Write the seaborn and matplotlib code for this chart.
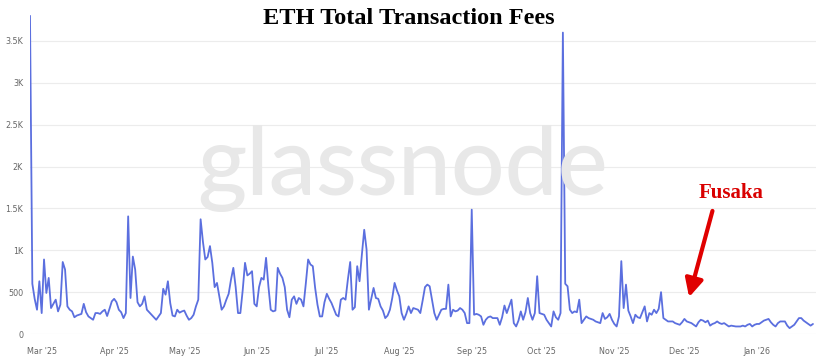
import numpy as np
import pandas as pd
import matplotlib
matplotlib.use("Agg")
import matplotlib.pyplot as plt
import matplotlib.dates as mdates
import seaborn as sns

# ---- data (daily ETH total transaction fees) ----
start_date = "2025-02-24"
fees = [
    3800, 600, 420, 290, 630, 250, 890, 490, 670, 310,
    360, 410, 270, 350, 860, 770, 330, 290, 270, 200,
    220, 230, 240, 360, 260, 210, 190, 170, 250, 250,
    240, 270, 290, 215, 300, 390, 420, 380, 290, 260,
    190, 250, 1405, 430, 925, 770, 380, 330, 360, 450,
    290, 260, 230, 200, 170, 210, 250, 540, 470, 630,
    370, 220, 210, 290, 255, 270, 280, 220, 170, 190,
    230, 330, 410, 1370, 1100, 890, 920, 1050, 850, 560,
    610, 450, 290, 330, 410, 480, 650, 790, 560, 250,
    250, 520, 850, 700, 720, 750, 360, 330, 560, 670,
    650, 910, 570, 290, 270, 280, 790, 720, 670, 560,
    290, 200, 410, 450, 360, 430, 410, 330, 600, 890,
    830, 810, 550, 350, 210, 210, 380, 480, 420, 370,
    300, 230, 210, 410, 430, 410, 650, 860, 290, 320,
    810, 630, 950, 1245, 1010, 290, 420, 550, 430, 420,
    330, 280, 190, 220, 290, 430, 610, 520, 450, 250,
    170, 240, 330, 250, 310, 300, 290, 250, 400, 560,
    590, 570, 410, 250, 170, 230, 290, 300, 300, 590,
    210, 290, 270, 280, 310, 290, 250, 130, 130, 1485,
    230, 240, 230, 210, 110, 170, 200, 210, 190, 190,
    190, 110, 200, 340, 250, 330, 410, 130, 90, 160,
    270, 170, 260, 430, 250, 170, 250, 690, 250, 240,
    230, 170, 130, 90, 270, 200, 170, 250, 3600, 600,
    570, 290, 250, 270, 260, 410, 130, 170, 210, 190,
    180, 170, 150, 140, 130, 250, 180, 200, 240, 170,
    120, 90, 210, 870, 310, 590, 280, 210, 130, 230,
    200, 190, 260, 330, 150, 250, 230, 290, 250, 300,
    500, 190, 170, 150, 150, 150, 130, 120, 110, 140,
    180, 150, 140, 130, 110, 90, 140, 170, 160, 140,
    160, 100, 120, 130, 150, 130, 120, 130, 110, 90,
    100, 95, 90, 90, 90, 100, 90, 110, 120, 90,
    110, 120, 120, 140, 160, 170, 180, 140, 110, 90,
    130, 150, 150, 150, 100, 70, 90, 110, 150, 190,
    190, 160, 140, 120, 100, 120,
]
y_ticks = [0, 500, 1000, 1500, 2000, 2500, 3000, 3500]
y_tick_labels = ["0", "500", "1K", "1.5K", "2K", "2.5K", "3K", "3.5K"]
x_tick_dates = ["2025-03-01", "2025-04-01", "2025-05-01", "2025-06-01",
                "2025-07-01", "2025-08-01", "2025-09-01", "2025-10-01",
                "2025-11-01", "2025-12-01", "2026-01-01"]
x_tick_labels = ["Mar '25", "Apr '25", "May '25", "Jun '25", "Jul '25",
                 "Aug '25", "Sep '25", "Oct '25", "Nov '25", "Dec '25",
                 "Jan '26"]
title = "ETH Total Transaction Fees"
watermark = "glassnode"
note_text = "Fusaka"
note_text_pos = ("2025-12-21", 1690)
note_arrow_tail = ("2025-12-13", 1470)
note_arrow_head = ("2025-12-03", 440)

df = pd.DataFrame({
    "date": pd.date_range(start_date, periods=len(fees), freq="D"),
    "fees": fees,
})

sns.set_theme(style="white")
plt.rcParams["font.family"] = ["DejaVu Sans"]

fig = plt.figure(figsize=(8.22, 3.57), dpi=100)
ax = fig.add_axes([30 / 822, 1 - 334 / 357, 786 / 822, (334 - 15) / 357])

# watermark
fig.text(403 / 822, 1 - 168 / 357, watermark, ha="center", va="center",
         fontsize=68, color="#e8e8e8", family=["Lato", "DejaVu Sans"],
         fontweight="medium", zorder=0)
ax.patch.set_alpha(0)

sns.lineplot(data=df, x="date", y="fees", ax=ax, color="#5b6fdf",
             linewidth=1.3, zorder=3)

ax.set_ylim(0, 3810)
ax.set_xlim(pd.Timestamp(start_date), pd.Timestamp(start_date) + pd.Timedelta(days=336.3))
ax.set_yticks(y_ticks)
ax.set_yticklabels(y_tick_labels)
ax.set_xticks(pd.to_datetime(x_tick_dates))
ax.set_xticklabels(x_tick_labels)
ax.tick_params(axis="both", length=0, labelsize=5.8, colors="#666666")
ax.tick_params(axis="y", pad=5)
ax.tick_params(axis="x", pad=9)
ax.grid(axis="y", color="#ececec", linewidth=0.8)
ax.grid(axis="x", visible=False)
for s in ax.spines.values():
    s.set_visible(False)
ax.set_xlabel("")
ax.set_ylabel("")

fig.text(409 / 822, 1 - 18 / 357, title, ha="center", va="center",
         fontsize=17.5, fontweight="bold", color="black",
         family=["Liberation Serif", "DejaVu Serif"])

ax.annotate("", xy=(pd.Timestamp(note_arrow_head[0]), note_arrow_head[1]),
            xytext=(pd.Timestamp(note_arrow_tail[0]), note_arrow_tail[1]),
            arrowprops=dict(arrowstyle="-|>,head_length=0.9,head_width=0.45",
                            color="#e00000", linewidth=3.0,
                            shrinkA=0, shrinkB=0),
            zorder=5)
ax.text(pd.Timestamp(note_text_pos[0]), note_text_pos[1], note_text,
        ha="center", va="center", fontsize=15, fontweight="bold",
        color="#d90000", family=["Liberation Serif", "DejaVu Serif"], zorder=5)

fig.savefig("out.png", dpi=100, facecolor="white")
